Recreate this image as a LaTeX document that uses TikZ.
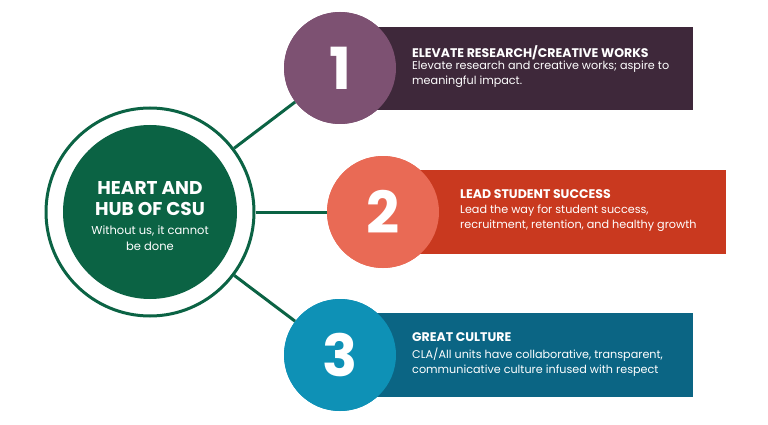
\documentclass[tikz,border=0pt]{standalone}
\usepackage{fontspec}
\setmainfont{Poppins}
\newcommand{\hubbig}{\fontsize{18.5}{21}\selectfont\bfseries}
\newcommand{\hubsmall}{\fontsize{11.5}{15}\selectfont\mdseries}
\begin{document}
\begin{tikzpicture}[x=1pt,y=-1pt,
  num/.style={circle,minimum size=112pt,inner sep=0pt,text=white,font=\fontsize{58}{58}\selectfont\bfseries},
  ttl/.style={anchor=north west,inner sep=0pt,text=white,font=\fontsize{12.5}{14}\selectfont\bfseries},
  bod/.style={anchor=north west,inner sep=0pt,text=white,align=left,font=\fontsize{11.2}{15}\selectfont},
  link/.style={draw=cgreen,line width=3pt}]
\definecolor{cgreen}{HTML}{0B6344}
\definecolor{p1}{HTML}{7D5172}\definecolor{b1}{HTML}{3E283A}
\definecolor{p2}{HTML}{E96A55}\definecolor{b2}{HTML}{C9391F}
\definecolor{p3}{HTML}{0E91B6}\definecolor{b3}{HTML}{0B6584}
\useasboundingbox (0,0) rectangle (768,425);
\node[circle,draw=cgreen,line width=3pt,fill=white,minimum size=208pt] (ring) at (150,212) {};
\node[num,fill=p1] (c1) at (340,68) {};
\node[num,fill=p2] (c2) at (383,212) {};
\node[num,fill=p3] (c3) at (340,355) {};
\draw[link] (ring) -- (c1);
\draw[link] (ring) -- (c2);
\draw[link] (ring) -- (c3);
\fill[b1] (340,27) rectangle (693,110);
\fill[b2] (383,170) rectangle (726,254);
\fill[b3] (340,313) rectangle (693,397);
\node[num,fill=p1] (n1) at (340,68) {1};
\node[num,fill=p2] (n2) at (383,212) {2};
\node[num,fill=p3] (n3) at (340,355) {3};
\node[circle,fill=cgreen,minimum size=174pt,inner sep=0pt] (hub) at (150,212) {};
\node[text=white,align=center,font=\hubbig] (hubtext) at (150,216) {HEART AND\\HUB OF CSU\\[-2pt]\hubsmall Without us, it cannot\\[-5pt]\hubsmall be done};
\node[ttl] (t1) at (412,45) {ELEVATE RESEARCH/CREATIVE WORKS};
\node[bod] (d1) at (412,61) {Elevate research and creative works; aspire to\\meaningful impact.};
\node[ttl] (t2) at (460,189) {LEAD STUDENT SUCCESS};
\node[bod] (d2) at (460,205) {Lead the way for student success,\\recruitment, retention, and healthy growth};
\node[ttl] (t3) at (412,332) {GREAT CULTURE};
\node[bod] (d3) at (412,348) {CLA/All units have collaborative, transparent,\\communicative culture infused with respect};
\end{tikzpicture}
\end{document}
